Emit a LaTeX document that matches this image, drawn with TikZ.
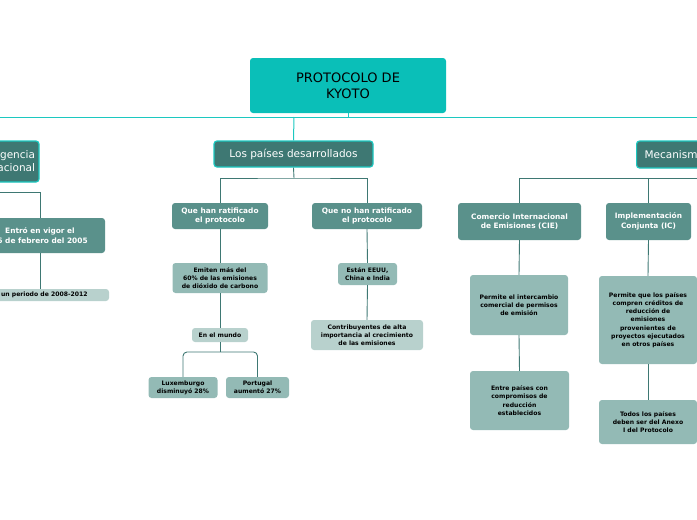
\documentclass[tikz,border=0pt]{standalone}
\usepackage{fontspec}
\setmainfont{DejaVu Sans}
\definecolor{rootc}{HTML}{0ABFB8}
\definecolor{mainc}{HTML}{3E7873}
\definecolor{cyanl}{HTML}{1CC8C0}
\definecolor{lvc}{HTML}{5A918B}
\definecolor{ltc}{HTML}{93BAB5}
\definecolor{lfc}{HTML}{B8D1CD}
\definecolor{linec}{HTML}{3E7873}
\begin{document}
\begin{tikzpicture}[x=1pt,y=-1pt,
  rootbox/.style={fill=rootc,rounded corners=3pt,text=black,align=center,font=\fontsize{13}{16}\selectfont,inner sep=0pt},
  mainbox/.style={fill=mainc,draw=cyanl,line width=1.2pt,rounded corners=3pt,text=white,font=\fontsize{10.5}{13}\selectfont,inner sep=0pt},
  lvtwo/.style={fill=lvc,rounded corners=3pt,text=white,align=center,font=\bfseries\fontsize{7.4}{9.5}\selectfont,inner sep=0pt},
  lvthree/.style={fill=ltc,rounded corners=3pt,text=black,align=center,font=\bfseries\fontsize{6.1}{8.2}\selectfont,inner sep=0pt},
  lvfour/.style={fill=lfc,rounded corners=3pt,text=black,align=center,font=\bfseries\fontsize{6.1}{8.2}\selectfont,inner sep=0pt},
  conn/.style={draw=linec,line width=0.9pt},
  topconn/.style={draw=cyanl,line width=1pt}]
\useasboundingbox (0,0) rectangle (697,520);
\clip (0,0) rectangle (697,520);
\coordinate (t1) at (348,117);
\coordinate (t2) at (294,117);
\coordinate (tl) at (0,117);
\coordinate (tr) at (697,117);
\draw[topconn] (tl) -- (tr);
\node[rootbox,minimum width=196pt,minimum height=55pt] (root) at (348,85.5) {PROTOCOLO DE\\KYOTO};
\draw[topconn] (root.south) -- (t1);
\node[mainbox,minimum width=120pt,minimum height=41pt,align=right,text width=112pt] (vig) at (-21,161.5) {Vigencia\\Internacional};
\node[mainbox,minimum width=159pt,minimum height=26pt,align=center] (des) at (293.5,154) {Los países desarrollados};
\node[mainbox,minimum width=130pt,minimum height=27pt,anchor=west,align=left,text width=120pt] (mec) at (636,154.5) {\hspace*{3pt}Mecanismos};
\draw[topconn] (t2) -- (des.north);
% left branch
\node[lvtwo,minimum width=130pt,minimum height=35pt] (ent) at (40,235.5) {Entró en vigor el\\16 de febrero del 2005};
\node[lvfour,minimum width=140pt,minimum height=12pt] (per) at (39,295) {En un periodo de 2008-2012};
\coordinate (l0) at (0,192);
\draw[conn] (l0) -| (ent.north);
\draw[conn] (ent.south) -- (ent.south |- per.north);
% middle branch
\node[lvtwo,minimum width=96pt,minimum height=26pt] (rat) at (220,216) {Que han ratificado\\el protocolo};
\node[lvtwo,minimum width=110pt,minimum height=26pt] (norat) at (367,216) {Que no han ratificado\\el protocolo};
\draw[conn] (des.south) -- (294,178) coordinate (d1);
\draw[conn] (rat.north) |- (d1) -| (norat.north);
\node[lvthree,minimum width=95pt,minimum height=30pt] (emi) at (220,278) {Emiten más del\\60\% de las emisiones\\de dióxido de carbono};
\node[lvfour,minimum width=56pt,minimum height=14pt] (mun) at (220,335) {En el mundo};
\node[lvthree,minimum width=69pt,minimum height=21pt] (lux) at (183,387.5) {Luxemburgo\\disminuyó 28\%};
\node[lvthree,minimum width=63pt,minimum height=21pt] (por) at (257.5,387.5) {Portugal\\aumentó 27\%};
\draw[conn] (rat.south) -- (emi.north);
\draw[conn] (emi.south) -- (mun.north);
\draw[conn] (mun.south) -- (220,352) coordinate (m1);
\draw[conn,rounded corners=4pt] (lux.north) |- (m1) -| (por.north);
\node[lvthree,minimum width=59pt,minimum height=22pt] (eeuu) at (367.5,274) {Están EEUU,\\China e India};
\node[lvfour,minimum width=112pt,minimum height=30pt] (con) at (367,335) {Contribuyentes de alta\\importancia al crecimiento\\de las emisiones};
\draw[conn] (norat.south) -- (eeuu.north);
\draw[conn] (eeuu.south) -- (con.north);
% right branch
\node[lvtwo,minimum width=123pt,minimum height=37pt] (cie) at (519.5,221.5) {Comercio Internacional\\de Emisiones (CIE)};
\node[lvtwo,minimum width=85pt,minimum height=37pt] (ic) at (648.5,221.5) {Implementación\\Conjunta (IC)};
\coordinate (m2) at (697,178);
\draw[conn] (cie.north) |- (m2);
\draw[conn] (ic.north) -- (ic.north |- m2);
\node[lvthree,minimum width=98pt,minimum height=60pt] (p1) at (519,305) {Permite el intercambio\\comercial de permisos\\de emisión};
\node[lvthree,minimum width=99pt,minimum height=59pt] (e1) at (519.5,400.5) {Entre países con\\compromisos de\\reducción\\establecidos};
\node[lvthree,minimum width=98pt,minimum height=88pt] (p2) at (648,320) {Permite que los países\\compren créditos de\\reducción de\\emisiones\\provenientes de\\proyectos ejecutados\\en otros países};
\node[lvthree,minimum width=98pt,minimum height=44pt] (t3) at (648,422) {Todos los países\\deben ser del Anexo\\I del Protocolo};
\draw[conn] (cie.south) -- (p1.north);
\draw[conn] (p1.south) -- (e1.north);
\draw[conn] (ic.south) -- (p2.north);
\draw[conn] (p2.south) -- (t3.north);
\end{tikzpicture}
\end{document}
